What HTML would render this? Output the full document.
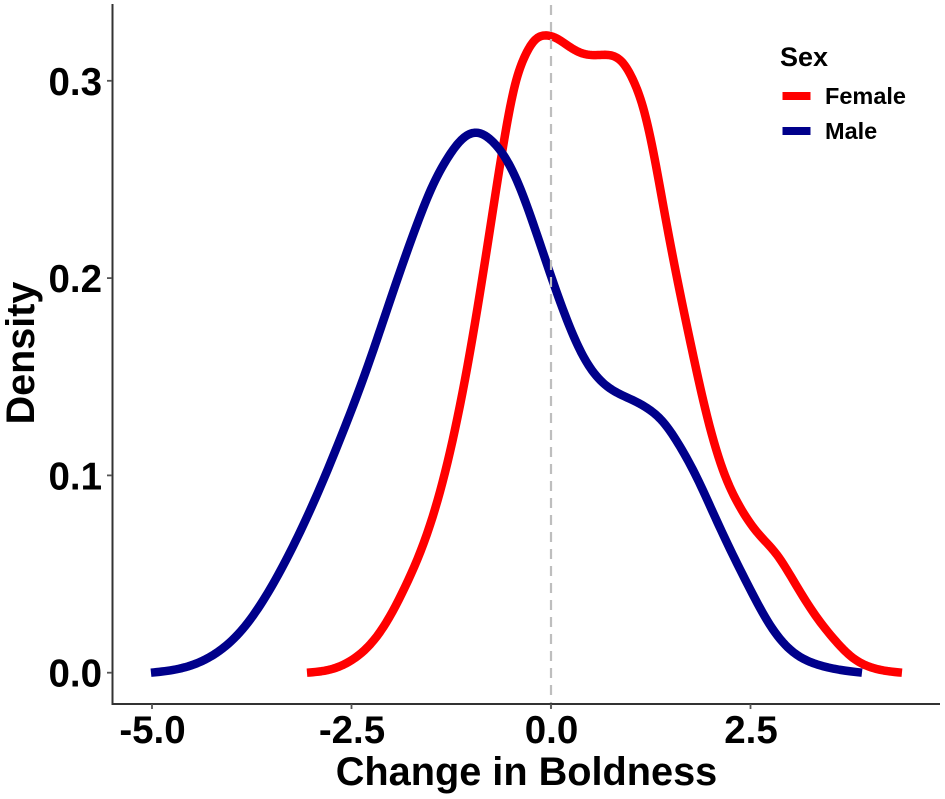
<!DOCTYPE html>
<html>
<head>
<meta charset="utf-8">
<style>
html,body{margin:0;padding:0;background:#fff;}
svg{display:block;font-family:"Liberation Sans",sans-serif;font-weight:bold;}
</style>
</head>
<body>
<svg id="chart" width="945" height="799" viewBox="0 0 945 799" xmlns="http://www.w3.org/2000/svg">
<rect x="0" y="0" width="945" height="799" fill="#fff"/>
<g id="curves"></g>
<line x1="551" y1="5" x2="551" y2="708" stroke="#bebebe" stroke-width="2.2" stroke-dasharray="10 7"/>
<g id="axes">
<line x1="112.5" y1="4" x2="112.5" y2="705" stroke="#333" stroke-width="2"/>
<line x1="112" y1="704" x2="940" y2="704" stroke="#333" stroke-width="2"/>
</g>
<text x="526.5" y="785" text-anchor="middle" font-size="39.7">Change in Boldness</text>
<text transform="translate(34,353) rotate(-90)" text-anchor="middle" font-size="39.5">Density</text>
<g>
<text x="780" y="66" font-size="27">Sex</text>
<line x1="782.5" y1="96" x2="810.5" y2="96" stroke="#ff0000" stroke-width="8"/>
<text x="825" y="104" font-size="23.5">Female</text>
<line x1="782.5" y1="131" x2="810.5" y2="131" stroke="#00008b" stroke-width="8"/>
<text x="825" y="139" font-size="23.5">Male</text>
</g>
</svg>
<script>
const xTicks = [-5, -2.5, 0, 2.5];
const xTickLabels = ["-5.0", "-2.5", "0.0", "2.5"];
const yTicks = [0, 0.1, 0.2, 0.3];
const yTickLabels = ["0.0", "0.1", "0.2", "0.3"];
const femaleX = [-3.058,-2.769,-2.456,-2.143,-1.830,-1.516,-1.266,-1.015,-0.764,-0.576,-0.451,-0.326,-0.2,-0.063,0.075,0.238,0.401,0.614,0.777,0.902,1.028,1.153,1.278,1.429,1.617,1.767,1.93,2.155,2.368,2.581,2.832,3.033,3.283,3.534,3.784,4.035,4.398];
const femaleY = [0,0.0016,0.0075,0.0206,0.0434,0.0749,0.1119,0.1626,0.2249,0.2726,0.2979,0.3126,0.3207,0.323,0.3214,0.3171,0.3138,0.3131,0.3126,0.309,0.3004,0.2866,0.2648,0.2318,0.1925,0.1636,0.1342,0.1027,0.084,0.0713,0.0597,0.047,0.0308,0.0176,0.0075,0.0024,0];
const maleX = [-5.013,-4.737,-4.436,-4.148,-3.860,-3.609,-3.358,-3.108,-2.857,-2.607,-2.393,-2.231,-2.105,-1.892,-1.679,-1.479,-1.303,-1.103,-0.94,-0.727,-0.639,-0.43,-0.226,-0.013,0.2,0.363,0.489,0.702,0.952,1.241,1.404,1.617,1.83,2.03,2.243,2.494,2.744,2.995,3.333,3.897];
const maleY = [0,0.0014,0.0048,0.0113,0.0223,0.0365,0.0542,0.0745,0.0973,0.1221,0.1446,0.163,0.178,0.2033,0.2273,0.2472,0.2604,0.2708,0.2737,0.269,0.2649,0.2497,0.2279,0.2026,0.1788,0.1636,0.1547,0.1452,0.1395,0.1331,0.1271,0.1146,0.0987,0.0812,0.0627,0.0424,0.0242,0.0118,0.0042,0];

const NS = "http://www.w3.org/2000/svg";
function sx(v){ return 551 + v * 79.8; }
function sy(v){ return 672.7 - v * 1973; }

// natural cubic spline through the data, sampled densely in data space
function splinePath(xs, ys){
  const n = xs.length;
  const y2 = new Array(n).fill(0), u = new Array(n).fill(0);
  for (let i = 1; i < n - 1; i++){
    const sig = (xs[i] - xs[i - 1]) / (xs[i + 1] - xs[i - 1]);
    const p = sig * y2[i - 1] + 2;
    y2[i] = (sig - 1) / p;
    const d = (ys[i + 1] - ys[i]) / (xs[i + 1] - xs[i]) - (ys[i] - ys[i - 1]) / (xs[i] - xs[i - 1]);
    u[i] = (6 * d / (xs[i + 1] - xs[i - 1]) - sig * u[i - 1]) / p;
  }
  for (let k = n - 2; k >= 0; k--) y2[k] = y2[k] * y2[k + 1] + u[k];
  let d = "";
  for (let i = 0; i < n - 1; i++){
    const h = xs[i + 1] - xs[i];
    const steps = 8;
    for (let s = (i === 0 ? 0 : 1); s <= steps; s++){
      const x = xs[i] + h * s / steps;
      const a = (xs[i + 1] - x) / h, b = (x - xs[i]) / h;
      const y = a * ys[i] + b * ys[i + 1] + ((a * a * a - a) * y2[i] + (b * b * b - b) * y2[i + 1]) * h * h / 6;
      d += (d ? "L" : "M") + sx(x).toFixed(2) + " " + sy(y).toFixed(2);
    }
  }
  return d;
}

const curves = document.getElementById("curves");
const femalePath = document.createElementNS(NS, "path");


femalePath.setAttribute("d", splinePath(femaleX, femaleY));
femalePath.setAttribute("fill", "none");
femalePath.setAttribute("stroke", "#ff0000");
femalePath.setAttribute("stroke-width", "8.5");
femalePath.setAttribute("stroke-linejoin", "round");
curves.appendChild(femalePath);

const malePath = document.createElementNS(NS, "path");


malePath.setAttribute("d", splinePath(maleX, maleY));
malePath.setAttribute("fill", "none");
malePath.setAttribute("stroke", "#00008b");
malePath.setAttribute("stroke-width", "8.5");
malePath.setAttribute("stroke-linejoin", "round");
curves.appendChild(malePath);

const axes = document.getElementById("axes");
xTicks.forEach((v, i) => {
  const t = document.createElementNS(NS, "line");
  
  
  t.setAttribute("x1", sx(v)); t.setAttribute("x2", sx(v));
  t.setAttribute("y1", 704); t.setAttribute("y2", 709);
  t.setAttribute("stroke", "#555"); t.setAttribute("stroke-width", 1.8);
  axes.appendChild(t);
  const l = document.createElementNS(NS, "text");
  
  
  l.setAttribute("x", sx(v) + 0.5); l.setAttribute("y", 743);
  l.setAttribute("text-anchor", "middle"); l.setAttribute("font-size", 38.5);
  l.textContent = xTickLabels[i];
  axes.appendChild(l);
});
yTicks.forEach((v, i) => {
  const t = document.createElementNS(NS, "line");
  
  
  t.setAttribute("x1", 107); t.setAttribute("x2", 112);
  t.setAttribute("y1", sy(v)); t.setAttribute("y2", sy(v));
  t.setAttribute("stroke", "#555"); t.setAttribute("stroke-width", 1.8);
  axes.appendChild(t);
  const l = document.createElementNS(NS, "text");
  
  
  l.setAttribute("x", 102); l.setAttribute("y", sy(v) + 14);
  l.setAttribute("text-anchor", "end"); l.setAttribute("font-size", 38.5);
  l.textContent = yTickLabels[i];
  axes.appendChild(l);
});
</script>
</body>
</html>
